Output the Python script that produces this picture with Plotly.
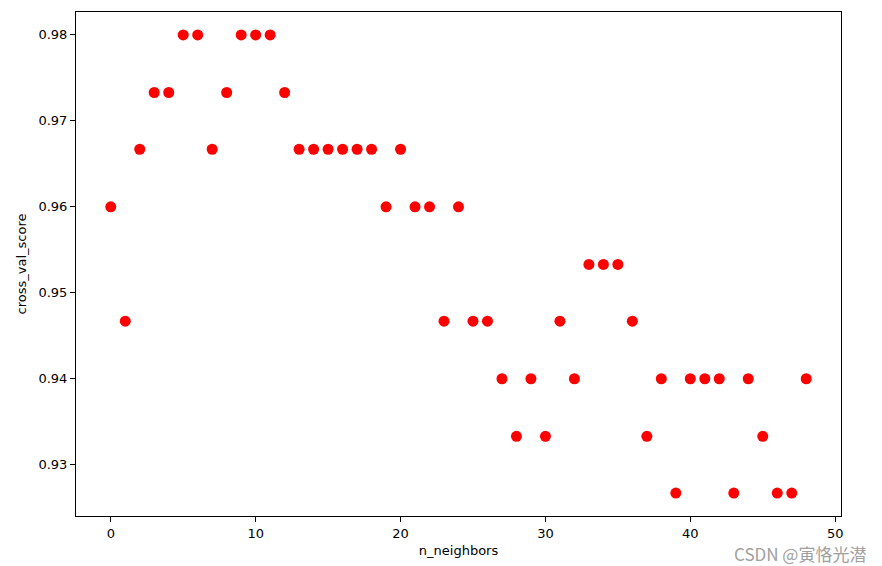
import plotly.graph_objects as go

# n_neighbors tried and their mean cross validation score
n_neighbors = list(range(49))
scores = [0.96, 0.9467, 0.9667, 0.9733, 0.9733, 0.98, 0.98, 0.9667, 0.9733, 0.98,
          0.98, 0.98, 0.9733, 0.9667, 0.9667, 0.9667, 0.9667, 0.9667, 0.9667, 0.96,
          0.9667, 0.96, 0.96, 0.9467, 0.96, 0.9467, 0.9467, 0.94, 0.9333, 0.94,
          0.9333, 0.9467, 0.94, 0.9533, 0.9533, 0.9533, 0.9467, 0.9333, 0.94, 0.9267,
          0.94, 0.94, 0.94, 0.9267, 0.94, 0.9333, 0.9267, 0.9267, 0.94]

x_ticks = [0, 10, 20, 30, 40, 50]
y_ticks = [0.93, 0.94, 0.95, 0.96, 0.97, 0.98]

fig = go.Figure()
fig.add_trace(go.Scatter(x=n_neighbors, y=scores, mode='markers',
                         marker=dict(color='red', size=11, line=dict(width=0))))

axis_style = dict(showline=True, linecolor='black', linewidth=1, mirror=True,
                  showgrid=False, zeroline=False, ticks='outside', ticklen=5,
                  tickcolor='black', tickfont=dict(size=13, color='black'))

# matplotlib style 5% padding around the data
xpad = (max(n_neighbors) - min(n_neighbors)) * 0.05
ypad = (max(scores) - min(scores)) * 0.05
fig.update_xaxes(range=[min(n_neighbors) - xpad, max(n_neighbors) + xpad], tickvals=x_ticks,
                 title=dict(text='n_neighbors', font=dict(size=13, color='black'), standoff=6),
                 **axis_style)
fig.update_yaxes(range=[min(scores) - ypad, max(scores) + ypad], tickvals=y_ticks,
                 tickformat='.2f',
                 title=dict(text='cross_val_score', font=dict(size=13, color='black'), standoff=8),
                 **axis_style)

fig.add_annotation(text='CSDN @寅恪光潜', xref='paper', yref='paper', x=1.035, y=-0.074,
                   xanchor='right', yanchor='middle', showarrow=False,
                   font=dict(size=17, color='#a0a0a0', family='Noto Sans CJK SC'))

# page body has an 8px margin, so the figure is a bit smaller than the window
fig.update_layout(width=874, height=558, plot_bgcolor='white', paper_bgcolor='white',
                  margin=dict(l=68, r=41, t=4, b=50), showlegend=False,
                  font=dict(family='DejaVu Sans'))

fig.write_html("out.html")
